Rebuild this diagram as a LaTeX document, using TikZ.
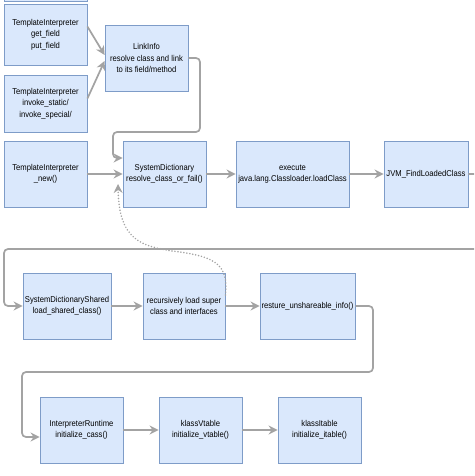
\documentclass[tikz,border=0pt]{standalone}
\usepackage{fontspec}
\setmainfont{Liberation Sans}[FakeStretch=0.9]
\usetikzlibrary{arrows.meta}
\definecolor{boxfill}{HTML}{DAE8FC}
\definecolor{boxdraw}{HTML}{7E9CC8}
\definecolor{conngray}{HTML}{A3A3A3}
\begin{document}
\begin{tikzpicture}[x=1pt,y=-1pt,
  box/.style={draw=boxdraw, fill=boxfill, line width=0.8pt, inner sep=1pt, align=center,
    font=\fontsize{8.5}{11.5}\selectfont, text=black},
  sz/.style 2 args={minimum width=#1pt, minimum height=#2pt},
  conn/.style={draw=conngray, line width=1.7pt, rounded corners=4pt,
    -{Stealth[length=9pt,width=9pt,inset=3pt]}},
  dots/.style={draw=conngray, line width=1.7pt, line cap=round, dash pattern=on 0pt off 3pt,
    -{Stealth[length=9pt,width=9pt,inset=3pt]}}]
\useasboundingbox (0,0) rectangle (474,476);
\fill[white] (0,0) rectangle (474,476);
\clip (0,0) rectangle (474,476);

% boxes
\node[box, sz={83}{41}] (top) at (45.5,-19.5) {};
\node[box, sz={83}{61}] (ti1) at (45.5,34.5) {TemplateInterpreter\\get\_field\\put\_field};
\node[box, sz={83}{57}] (ti2) at (45.5,103.5) {TemplateInterpreter\\invoke\_static/\\invoke\_special/};
\node[box, sz={83}{66}] (li) at (146.5,58) {LinkInfo\\resolve class and link\\to its field/method};
\node[box, sz={83}{66}] (tin) at (45.5,174) {TemplateInterpreter\\\_new()};
\node[box, sz={83}{66}] (sd) at (164.5,174) {SystemDictionary\\resolve\_class\_or\_fail()};
\node[box, sz={113}{66}] (ex) at (292.5,174) {execute\\java.lang.Classloader.loadClass};
\node[box, sz={84}{66}] (jvm) at (426,174) {JVM\_FindLoadedClass};
\node[box, sz={88}{66}] (sds) at (67,306) {SystemDictionaryShared\\load\_shared\_class()};
\node[box, sz={82}{66}] (rec) at (184,306) {recursively load super\\class and interfaces};
\node[box, sz={95}{66}] (res) at (307.5,306) {resture\_unshareable\_info()};
\node[box, sz={83}{66}] (ir) at (81.5,430) {InterpreterRuntime\\initialize\_cass()};
\node[box, sz={83}{66}] (kv) at (200.5,430) {klassVtable\\initialize\_vtable()};
\node[box, sz={83}{66}] (ki) at (319.5,430) {klassItable\\initialize\_itable()};

% connectors
\draw[conn] ([yshift=8pt]ti1.east) -- ([yshift=3pt]li.west);
\draw[conn] ([yshift=5pt]ti2.east) -- ([yshift=-3pt]li.west);
\draw[conn] (li.east) -- (200,58) -- (200,132) -- (113,132) -- (113,158) -- ([yshift=16pt]sd.west);
\draw[conn] (tin.east) -- (sd.west);
\draw[conn] (sd.east) -- (ex.west);
\draw[conn] (ex.east) -- (jvm.west);
\draw[conn] (jvm.east) -- (490,174) -- (490,249) -- (4,249) -- (4,306) -- (sds.west);
\draw[conn] (sds.east) -- (rec.west);
\draw[conn] (rec.east) -- (res.west);
\draw[conn] (res.east) -- (373,306) -- (373,372) -- (22,372) -- (22,437) -- ([yshift=-7pt]ir.west);
\draw[conn] (ir.east) -- (kv.west);
\draw[conn] (kv.east) -- (ki.west);
\coordinate (dotend) at (118,184);
\draw[dots] ([yshift=11pt]rec.east) .. controls (229,265) and (215,257) .. (180,252)
  .. controls (140,247) and (119,240) .. (dotend);
\end{tikzpicture}
\end{document}
